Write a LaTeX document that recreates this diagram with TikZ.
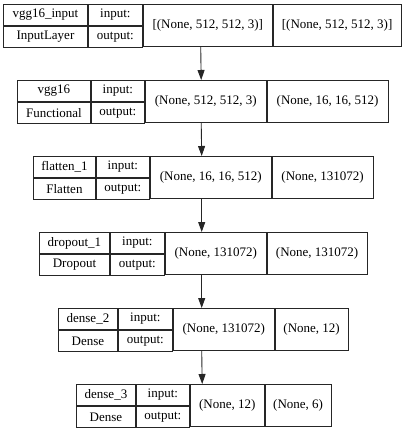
\documentclass[tikz,border=0pt]{standalone}
\usepackage{fontspec}
\setmainfont{Liberation Serif}
\usetikzlibrary{arrows.meta,positioning}

\begin{document}
\begin{tikzpicture}[
    x=1pt, y=-1pt,
    cell/.style={draw=black!85, line width=0.9pt, inner sep=0pt, minimum height=21pt, anchor=north west, font=\fontsize{13}{15}\selectfont},
    shapecell/.style={cell, minimum height=42pt},
    flow/.style={draw=black!85, line width=0.9pt, -{Triangle[width=7pt,length=10pt]}}
]
\useasboundingbox (0,0) rectangle (404,431);

% --- Layers: name / class / input shape / output shape / column edges ---
\foreach \i/\name/\cls/\shin/\shout/\l/\a/\b/\c/\r in {
    0/vgg16\_input/InputLayer/{[(None, 512, 512, 3)]}/{[(None, 512, 512, 3)]}/3/87/141/270/398,
    1/vgg16/Functional/{(None, 512, 512, 3)}/{(None, 16, 16, 512)}/17/90/143/264/385,
    2/flatten\_1/Flatten/{(None, 16, 16, 512)}/{(None, 131072)}/33/95/148/269/370,
    3/dropout\_1/Dropout/{(None, 131072)}/{(None, 131072)}/39/109/163/264/364,
    4/dense\_2/Dense/{(None, 131072)}/{(None, 12)}/58/117/171/272/345,
    5/dense\_3/Dense/{(None, 12)}/{(None, 6)}/76/135/188/262/328%
} {
    \pgfmathsetmacro\t{4+76*\i}
    \pgfmathsetmacro\wn{\a-\l}
    \pgfmathsetmacro\wi{\b-\a}
    \pgfmathsetmacro\ws{\c-\b}
    \pgfmathsetmacro\wo{\r-\c}
    \pgfmathsetmacro\wb{\r-\l}
    \node[anchor=north west, inner sep=0pt, minimum width=\wb pt, minimum height=42pt] (box\i) at (\l,\t) {};
    \node[cell, minimum width=\wn pt] (name\i) at (\l,\t) {\name};
    \node[cell, minimum width=\wn pt] (cls\i) at (name\i.south west) {\cls};
    \node[cell, minimum width=\wi pt] (inl\i) at (name\i.north east) {input:};
    \node[cell, minimum width=\wi pt] (outl\i) at (inl\i.south west) {output:};
    \node[shapecell, minimum width=\ws pt] (shin\i) at (inl\i.north east) {\shin};
    \node[shapecell, minimum width=\wo pt] (shout\i) at (shin\i.north east) {\shout};
}

% --- Connections ---
\foreach \i [evaluate=\i as \j using int(\i+1)] in {0,...,4}
    \draw[flow] (box\i.south) -- (box\j.north);

\end{tikzpicture}
\end{document}
